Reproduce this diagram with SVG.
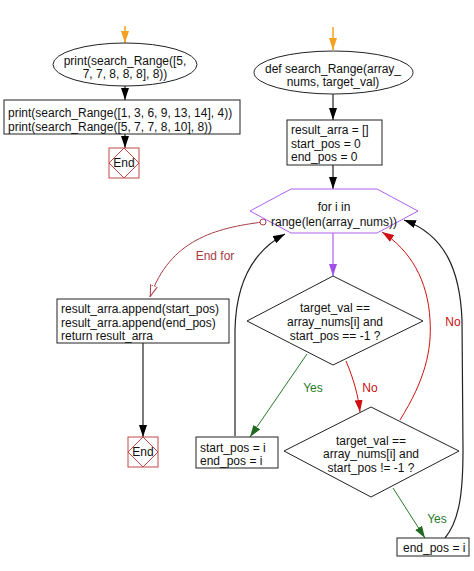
<svg xmlns="http://www.w3.org/2000/svg" width="474" height="571" viewBox="0 0 474 571">
<defs>
<style>
text{font-family:"Liberation Sans",Arial,sans-serif;font-size:12px;fill:#111}
.c{text-anchor:middle}
.box{fill:#fff;stroke:#222;stroke-width:1}
.end{fill:#fff;stroke:#c04848;stroke-width:1}
.ln{fill:none;stroke:#222;stroke-width:1.2}
.red{fill:none;stroke:#d01010;stroke-width:1}
.grn{fill:none;stroke:#2a7a2a;stroke-width:1}
.ef{fill:none;stroke:#a83a46;stroke-width:1}
.pur{fill:none;stroke:#b060f0;stroke-width:1.2}
.org{fill:none;stroke:#f5a020;stroke-width:1.5}
</style>
<marker id="ab" markerUnits="userSpaceOnUse" viewBox="0 0 12 8" refX="12" refY="4" markerWidth="12" markerHeight="8" orient="auto"><path d="M0,0 L12,4 L0,8 z" fill="#000"/></marker>
<marker id="ar" markerUnits="userSpaceOnUse" viewBox="0 0 12 8" refX="12" refY="4" markerWidth="12" markerHeight="8" orient="auto"><path d="M0,0 L12,4 L0,8 z" fill="#d01010"/></marker>
<marker id="ag" markerUnits="userSpaceOnUse" viewBox="0 0 12 8" refX="12" refY="4" markerWidth="12" markerHeight="8" orient="auto"><path d="M0,0 L12,4 L0,8 z" fill="#1f6a1f"/></marker>
<marker id="ap" markerUnits="userSpaceOnUse" viewBox="0 0 12 8" refX="12" refY="4" markerWidth="12" markerHeight="8" orient="auto"><path d="M0,0 L12,4 L0,8 z" fill="#a050e8"/></marker>
<marker id="ao" markerUnits="userSpaceOnUse" viewBox="0 0 12 8" refX="12" refY="4" markerWidth="12" markerHeight="8" orient="auto"><path d="M0,0 L12,4 L0,8 z" fill="#f5a020"/></marker>
<marker id="aopen" markerUnits="userSpaceOnUse" viewBox="0 0 12 8" refX="12" refY="4" markerWidth="12" markerHeight="8" orient="auto"><path d="M0,0.5 L11.5,4 L0,7.5 z" fill="#fff" stroke="#a83a46" stroke-width="1"/></marker>
<marker id="circ" markerUnits="userSpaceOnUse" viewBox="0 0 8 8" refX="4" refY="4" markerWidth="8" markerHeight="8"><circle cx="4" cy="4" r="3" fill="#fff" stroke="#a83a46" stroke-width="1"/></marker>
</defs>

<g id="connectors">
<path class="org" d="M125,26 L125,43" marker-end="url(#ao)"/>
<path class="ln" d="M125,86 L125,100" marker-end="url(#ab)"/>
<path class="ln" d="M125,134 L125,148" marker-end="url(#ab)"/>
<path class="org" d="M333,27 L333,50" marker-end="url(#ao)"/>
<path class="ln" d="M333,94 L333,120" marker-end="url(#ab)"/>
<path class="ln" d="M333,165 L333,189" marker-end="url(#ab)"/>
<path class="pur" d="M333,233 L333,276" marker-end="url(#ap)"/>
<path class="ef" d="M263,222 C215,228 170,240 150,297" marker-start="url(#circ)" marker-end="url(#aopen)"/>
<path class="ln" d="M143,343 L143,437" marker-end="url(#ab)"/>
<path class="grn" d="M307,354 L250,437" marker-end="url(#ag)"/>
<path class="red" d="M346,361 C354,380 358,395 360,412" marker-end="url(#ar)"/>
<path class="ln" d="M235,436 L235,330 C236,280 255,250 285,234" marker-end="url(#ab)"/>
<path class="red" d="M400,420 C425,380 432,350 430,320 C428,280 410,250 382,232" marker-end="url(#ar)"/>
<path class="grn" d="M393,488 L425,538" marker-end="url(#ag)"/>
<path class="ln" d="M445,538 C460,520 463,490 463,450 L462,320 C460,270 445,235 404,220" marker-end="url(#ab)"/>
<text x="215" y="260" class="c" style="fill:#a83a46">End for</text>
<text x="313" y="392" class="c" style="fill:#2a7a2a">Yes</text>
<text x="370" y="392" class="c" style="fill:#c81010">No</text>
<text x="453" y="326" class="c" style="fill:#c81010">No</text>
<text x="437" y="523" class="c" style="fill:#2a7a2a">Yes</text>
</g>

<g id="call_start">
<ellipse class="box" cx="125" cy="64.5" rx="72" ry="21.5"/>
<text x="125" y="65" class="c">print(search_Range([5,</text>
<text x="125" y="78" class="c">7, 7, 8, 8, 8], 8))</text>
</g>
<g id="call_body">
<rect class="box" x="4" y="100" width="236" height="34"/>
<text x="8" y="117">print(search_Range([1, 3, 6, 9, 13, 14], 4))</text>
<text x="8" y="131">print(search_Range([5, 7, 7, 8, 10], 8))</text>
</g>
<g id="end1">
<rect class="end" x="109" y="148" width="30" height="30"/>
<path class="end" d="M124,148 L139,163 L124,178 L109,163 z"/>
<text x="124" y="167" class="c">End</text>
</g>

<g id="def_start">
<ellipse class="box" cx="333.5" cy="72.5" rx="79.5" ry="21.5"/>
<text x="333" y="73" class="c">def search_Range(array_</text>
<text x="333" y="86" class="c">nums, target_val)</text>
</g>
<g id="init">
<rect class="box" x="287" y="120" width="95" height="45"/>
<text x="291" y="134">result_arra = []</text>
<text x="291" y="148">start_pos = 0</text>
<text x="291" y="161">end_pos = 0</text>
</g>
<g id="loop">
<path d="M250,211 L291,189 L377,189 L418,211 L377,233 L291,233 z" fill="#fff" stroke="#b060f0" stroke-width="1"/>
<text x="334" y="211" class="c">for i in</text>
<text x="334" y="226" class="c">range(len(array_nums))</text>
</g>
<g id="cond1">
<path class="box" d="M333,276 L423,321 L333,365 L247,321 z"/>
<text x="335" y="312" class="c">target_val ==</text>
<text x="335" y="326" class="c">array_nums[i] and</text>
<text x="335" y="340" class="c">start_pos == -1 ?</text>
</g>
<g id="set_both">
<rect class="box" x="196" y="437" width="82" height="31"/>
<text x="200" y="452">start_pos = i</text>
<text x="200" y="465">end_pos = i</text>
</g>
<g id="cond2">
<path class="box" d="M371,407 L459,451 L371,497 L284,451 z"/>
<text x="371" y="445" class="c">target_val ==</text>
<text x="371" y="458" class="c">array_nums[i] and</text>
<text x="371" y="472" class="c">start_pos != -1 ?</text>
</g>
<g id="set_end">
<rect class="box" x="397" y="538" width="72" height="18"/>
<text x="403" y="552">end_pos = i</text>
</g>
<g id="result">
<rect class="box" x="57" y="299" width="172" height="44"/>
<text x="61" y="313">result_arra.append(start_pos)</text>
<text x="61" y="327">result_arra.append(end_pos)</text>
<text x="61" y="340">return result_arra</text>
</g>
<g id="end2">
<rect class="end" x="128" y="437" width="30" height="30"/>
<path class="end" d="M143,437 L158,452 L143,467 L128,452 z"/>
<text x="143" y="456" class="c">End</text>
</g>
</svg>
